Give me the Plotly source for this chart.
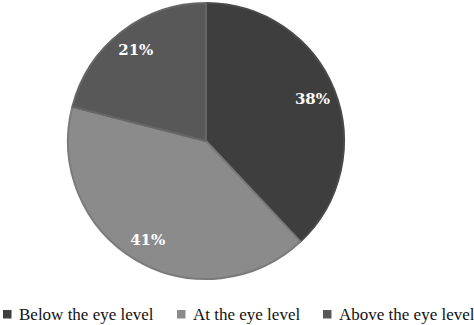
import plotly.graph_objects as go

labels = ["Below the eye level", "At the eye level", "Above the eye level"]
values = [38, 41, 21]
colors = ["#3e3e3e", "#8b8b8b", "#585858"]
line_colors = ["#4a4a4a", "#7a7a7a", "#666666"]

W, H = 474, 325
dom = dict(x=[68 / W, 344 / W], y=[(H - 279) / H, (H - 3) / H])

fig = go.Figure()
fig.add_trace(go.Pie(
    labels=labels,
    values=values,
    sort=False,
    direction="clockwise",
    rotation=0,
    marker=dict(colors=colors, line=dict(color=line_colors, width=2)),
    textinfo="none",
    domain=dom,
    hoverinfo="skip",
    showlegend=False,
))
# label ring: transparent donut carrying the percentage text further out
fig.add_trace(go.Pie(
    labels=labels,
    values=values,
    sort=False,
    direction="clockwise",
    rotation=0,
    hole=0.66,
    marker=dict(colors=["rgba(0,0,0,0)"] * 3, line=dict(width=0)),
    texttemplate="<b>%{value}%</b>",
    textposition="inside",
    insidetextorientation="horizontal",
    textfont=dict(family="DejaVu Serif", size=15, color="white"),
    domain=dom,
    showlegend=False,
    hoverinfo="skip",
))

# legend row (built from labels/colors)
legend_x = [18, 192, 338]
legend_y = 314
for lab, col, lx in zip(labels, colors, legend_x):
    fig.add_shape(
        type="rect", xref="paper", yref="paper",
        x0=(lx - 15) / W, x1=(lx - 6.5) / W,
        y0=(H - legend_y - 4.5) / H, y1=(H - legend_y + 4) / H,
        fillcolor=col, line=dict(width=0),
    )
    fig.add_annotation(
        text=lab, xref="paper", yref="paper",
        x=(lx - 1) / W, y=(H - legend_y) / H,
        xanchor="left", yanchor="middle", showarrow=False,
        font=dict(family="Liberation Serif", size=17, color="#111111"),
    )

fig.update_layout(
    width=W, height=H,
    margin=dict(l=0, r=0, t=0, b=0, autoexpand=False),
    paper_bgcolor="white",
    showlegend=False,
)

fig.write_html("out.html")
